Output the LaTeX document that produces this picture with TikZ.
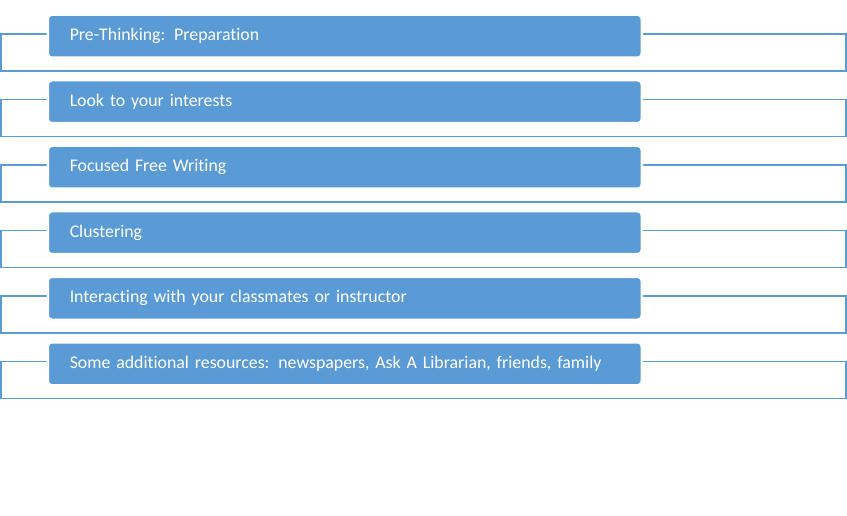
\documentclass[tikz,border=0pt]{standalone}
\usepackage{fontspec}
\setmainfont{Carlito}[RawFeature=-liga]
\definecolor{itemblue}{RGB}{91,155,213}
\tikzset{ItemBox/.style={%
    shape=rectangle,%
    rounded corners=4pt,%
    draw=white,%
    line width=2.5pt,%
    fill=itemblue,%
    text=white,%
    anchor=north west,%
    minimum width=591pt,%
    minimum height=43pt,%
    text width=550pt,%
    inner xsep=22pt,%
    align=left,%
    font=\fontsize{17.8}{19}\selectfont,%
}}
\tikzset{Frame/.style={%
    draw=itemblue,%
    line width=1.3pt,%
    fill=white,%
}}
\begin{document}
\begin{tikzpicture}[x=1pt,y=-1pt]
    \useasboundingbox (0,0) rectangle (847,516);
    \foreach \txt [count=\i from 0] in {Pre-Thinking: Preparation,Look to your interests,Focused Free Writing,Clustering,Interacting with your classmates or instructor,{Some additional resources: newspapers, Ask A Librarian, friends, family}} {
        \draw[Frame] (1,34+65.5*\i) rectangle (846,71+65.5*\i);
        \node[ItemBox] (item\i) at (46.5,13.5+65.5*\i) {\txt};
    }
\end{tikzpicture}
\end{document}
